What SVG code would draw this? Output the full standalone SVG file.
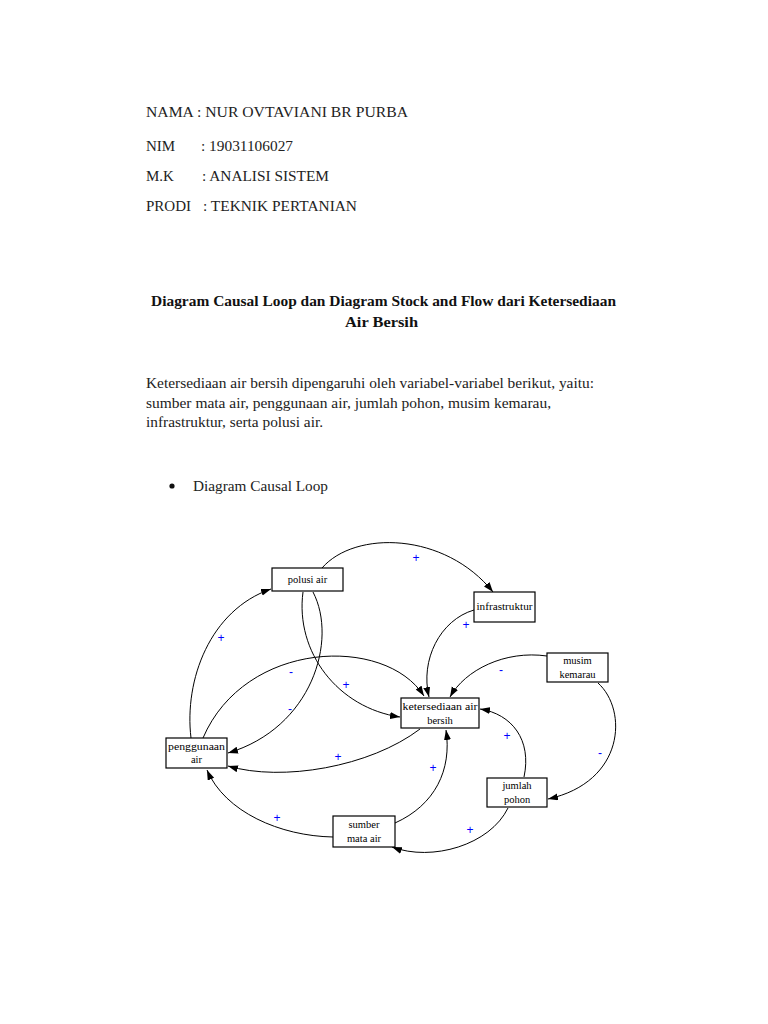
<svg xmlns="http://www.w3.org/2000/svg" width="768" height="1024" viewBox="0 0 768 1024">
<style>
.t{font-family:"Liberation Serif","Times New Roman",serif;font-size:15px;fill:#222}
.b{font-family:"Liberation Serif","Times New Roman",serif;font-size:15px;font-weight:bold;fill:#111}
.n{font-family:"Liberation Serif","Times New Roman",serif;font-size:10.5px;fill:#000;text-anchor:middle}
.box{fill:#fff;stroke:#000;stroke-width:1.2}
.c{fill:none;stroke:#000;stroke-width:1;marker-end:url(#ah)}
.p{font-family:"Liberation Sans",Arial,sans-serif;font-size:12px;fill:#0000ff;text-anchor:middle}
</style>
<defs>
<marker id="ah" markerUnits="userSpaceOnUse" markerWidth="11" markerHeight="8" refX="10" refY="3.5" orient="auto">
<path d="M0,0 L10,3.5 L0,7 z" fill="#000"/>
</marker>
</defs>
<rect width="768" height="1024" fill="#fff"/>
<g id="header">
<text class="t" x="146" y="117" textLength="262" lengthAdjust="spacingAndGlyphs">NAMA : NUR OVTAVIANI BR PURBA</text>
<text class="t" x="146" y="151">NIM</text>
<text class="t" x="201" y="151" textLength="92" lengthAdjust="spacingAndGlyphs">: 19031106027</text>
<text class="t" x="146" y="181">M.K</text>
<text class="t" x="202" y="181" textLength="127" lengthAdjust="spacingAndGlyphs">: ANALISI SISTEM</text>
<text class="t" x="146" y="211">PRODI</text>
<text class="t" x="203" y="211" textLength="154" lengthAdjust="spacingAndGlyphs">: TEKNIK PERTANIAN</text>
<text class="b" x="151" y="306" textLength="465" lengthAdjust="spacingAndGlyphs">Diagram Causal Loop dan Diagram Stock and Flow dari Ketersediaan</text>
<text class="b" x="345" y="327" textLength="73" lengthAdjust="spacingAndGlyphs">Air Bersih</text>
<text class="t" x="146" y="388" textLength="448" lengthAdjust="spacingAndGlyphs">Ketersediaan air bersih dipengaruhi oleh variabel-variabel berikut, yaitu:</text>
<text class="t" x="146" y="408" textLength="405" lengthAdjust="spacingAndGlyphs">sumber mata air, penggunaan air, jumlah pohon, musim kemarau,</text>
<text class="t" x="146" y="427" textLength="177" lengthAdjust="spacingAndGlyphs">infrastruktur, serta polusi air.</text>
<circle cx="172" cy="486" r="2.6" fill="#111"/>
<text class="t" x="193" y="491" textLength="135" lengthAdjust="spacingAndGlyphs">Diagram Causal Loop</text>
</g>
<g id="connectors">
<path class="c" d="M191,738 C184,680 210,610 271,589"/>
<path class="c" d="M322,568 C355,530 445,532 493,592"/>
<path class="c" d="M474,610 C440,620 420,660 429,697"/>
<path class="c" d="M547,656 C505,650 465,670 450,697"/>
<path class="c" d="M598,683 C628,710 625,782 548,799"/>
<path class="c" d="M524,777 C532,740 512,714 480,709"/>
<path class="c" d="M508,808 C490,845 432,862 392,847"/>
<path class="c" d="M395,823 C435,805 452,770 446,730"/>
<path class="c" d="M333,837 C280,836 225,812 207,770"/>
<path class="c" d="M420,729 C370,767 282,782 228,766"/>
<path class="c" d="M203,738 C245,640 385,635 424,696"/>
<path class="c" d="M313,592 C338,640 312,728 228,753"/>
<path class="c" d="M303,592 C295,652 338,708 400,717"/>
<text class="p" x="416" y="562">+</text>
<text class="p" x="466" y="629">+</text>
<text class="p" x="221" y="642">+</text>
<text class="p" x="346" y="689">+</text>
<text class="p" x="338" y="761">+</text>
<text class="p" x="433" y="772">+</text>
<text class="p" x="507" y="740">+</text>
<text class="p" x="470" y="834">+</text>
<text class="p" x="277" y="822">+</text>
<text class="p" x="291" y="676">-</text>
<text class="p" x="290" y="713">-</text>
<text class="p" x="501" y="674">-</text>
<text class="p" x="600" y="757">-</text>
</g>
<g id="polusi-air">
<rect class="box" x="272" y="568" width="71" height="23"/>
<text class="n" x="307.5" y="583">polusi air</text>
</g>
<g id="infrastruktur">
<rect class="box" x="474" y="592" width="61" height="30"/>
<text class="n" x="504.5" y="610" textLength="56" lengthAdjust="spacingAndGlyphs">infrastruktur</text>
</g>
<g id="musim-kemarau">
<rect class="box" x="547" y="653" width="61" height="29"/>
<text class="n" x="577.5" y="664">musim</text>
<text class="n" x="577.5" y="678">kemarau</text>
</g>
<g id="ketersediaan-air-bersih">
<rect class="box" x="401" y="698" width="78" height="30"/>
<text class="n" x="440" y="710" textLength="75" lengthAdjust="spacingAndGlyphs">ketersediaan air</text>
<text class="n" x="440" y="724">bersih</text>
</g>
<g id="jumlah-pohon">
<rect class="box" x="487" y="778" width="60" height="29"/>
<text class="n" x="517" y="789">jumlah</text>
<text class="n" x="517" y="803">pohon</text>
</g>
<g id="penggunaan-air">
<rect class="box" x="166" y="738" width="61" height="30"/>
<text class="n" x="196.5" y="750" textLength="57" lengthAdjust="spacingAndGlyphs">penggunaan</text>
<text class="n" x="196.5" y="763">air</text>
</g>
<g id="sumber-mata-air">
<rect class="box" x="333" y="816" width="62" height="31"/>
<text class="n" x="364" y="828">sumber</text>
<text class="n" x="364" y="842">mata air</text>
</g>
</svg>
